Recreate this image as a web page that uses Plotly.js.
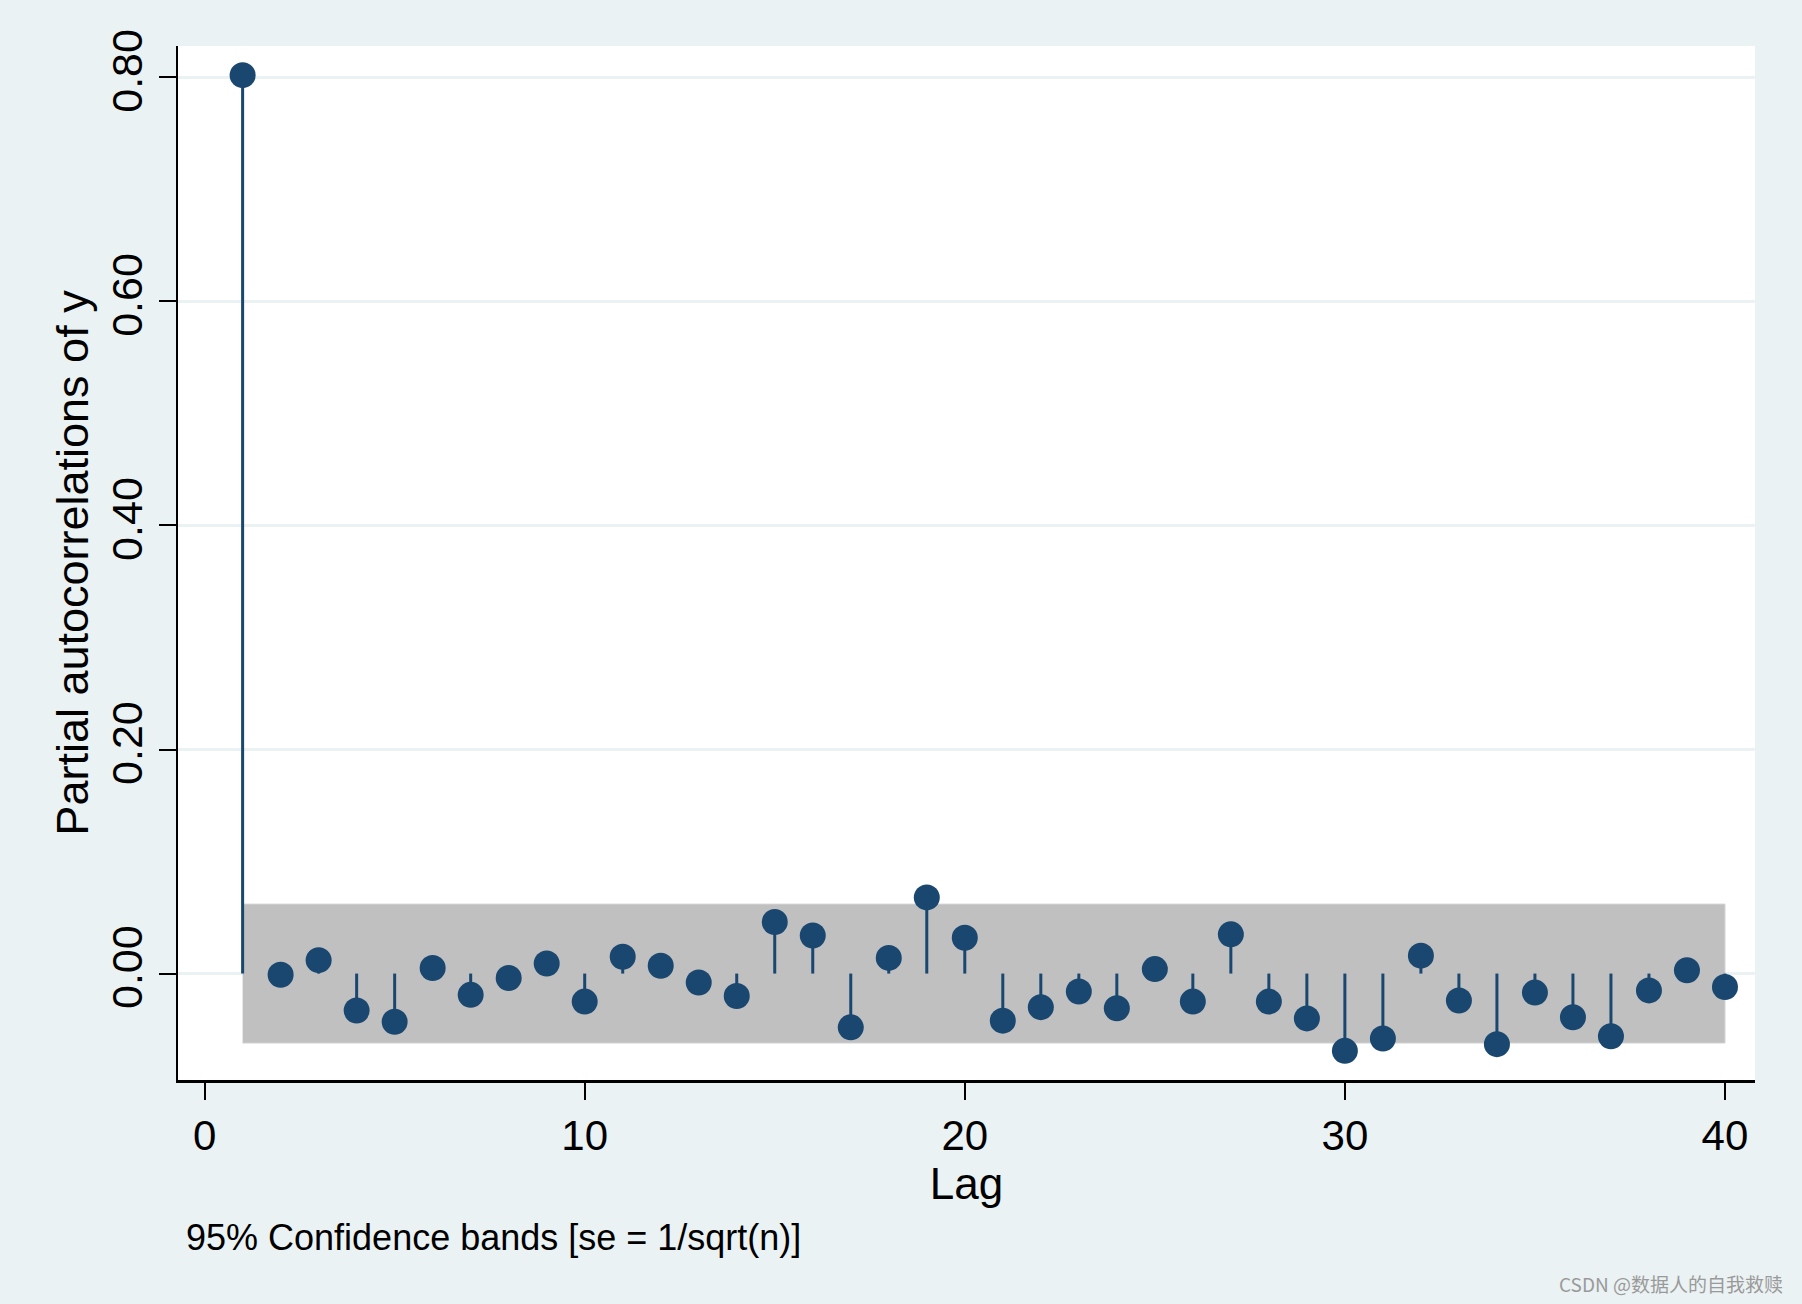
<!DOCTYPE html>
<html>
<head>
<meta charset="utf-8">
<script src="https://cdn.plot.ly/plotly-3.0.1.min.js"></script>
<style>html,body{margin:0;padding:0;background:#EAF2F3;}#chart{width:1802px;height:1304px;}</style>
</head>
<body>
<div id="chart"></div>
<script>
// Data
const lags = [1,2,3,4,5,6,7,8,9,10,11,12,13,14,15,16,17,18,19,20,21,22,23,24,25,26,27,28,29,30,31,32,33,34,35,36,37,38,39,40];
const pac = [0.802,-0.001,0.012,-0.033,-0.043,0.005,-0.019,-0.004,0.009,-0.025,
             0.015,0.007,-0.008,-0.020,0.046,0.034,-0.048,0.014,0.068,0.032,
             -0.042,-0.030,-0.016,-0.031,0.004,-0.025,0.035,-0.025,-0.040,-0.069,
             -0.058,0.016,-0.024,-0.063,-0.017,-0.039,-0.056,-0.015,0.003,-0.012];
const bandHalf = 0.062;   // 1.96 * se, se = 1/sqrt(n)
const xTicks = [0,10,20,30,40];
const yTicks = [0,0.2,0.4,0.6,0.8];
const xTitle = "Lag";
const yTitle = "Partial autocorrelations of y";
const noteText = "95% Confidence bands [se = 1/sqrt(n)]";
const watermark = "CSDN @数据人的自我救赎";

const navy = "#1A476F";
const FONT = "Liberation Sans, Arial, sans-serif";

// Confidence band polygon
const bandX = lags.concat(lags.slice().reverse());
const bandY = lags.map(() => bandHalf).concat(lags.map(() => -bandHalf));

// Stems
const stemX = [], stemY = [];
lags.forEach((l, i) => { stemX.push(l, l, null); stemY.push(0, pac[i], null); });

const traces = [
  {x: bandX, y: bandY, type: "scatter", mode: "lines", fill: "toself",
   fillcolor: "#C0C0C0", line: {color: "#D2D2D2", width: 1}, hoverinfo: "skip", showlegend: false},
  {x: stemX, y: stemY, type: "scatter", mode: "lines",
   line: {color: navy, width: 3}, hoverinfo: "skip", showlegend: false},
  {x: lags, y: pac, type: "scatter", mode: "markers",
   marker: {color: navy, size: 26}, showlegend: false}
];

const layout = {
  width: 1802, height: 1304,
  paper_bgcolor: "#EAF2F3", plot_bgcolor: "#FFFFFF",
  margin: {l: 178, r: 47, t: 46, b: 224},
  font: {family: FONT, color: "#000"},
  showlegend: false,
  xaxis: {
    range: [-0.70, 40.79], tickvals: xTicks, ticktext: xTicks.map(String),
    showgrid: false, zeroline: false,
    showline: true, linecolor: "#000", linewidth: 2.5,
    ticks: "outside", ticklen: 17, tickwidth: 2, tickcolor: "#000",
    tickfont: {size: 42, family: FONT},
    title: {text: xTitle, font: {size: 44, family: FONT}, standoff: 0}
  },
  yaxis: {
    range: [-0.095, 0.828], tickvals: yTicks, ticktext: yTicks.map(v => v.toFixed(2)),
    tickangle: -90,
    showgrid: true, gridcolor: "#EAF2F3", gridwidth: 3, zeroline: false,
    showline: true, linecolor: "#000", linewidth: 2, mirror: false,
    ticks: "outside", ticklen: 17, tickwidth: 2, tickcolor: "#000",
    tickfont: {size: 43, family: FONT},
    title: {text: yTitle, font: {size: 45, family: FONT}, standoff: 0}
  },
  annotations: [
    {text: noteText, xref: "paper", yref: "paper", x: 0.004, y: -0.152,
     xanchor: "left", yanchor: "middle", showarrow: false,
     font: {size: 36, family: FONT, color: "#000"}},
    {text: watermark, xref: "paper", yref: "paper", x: 1.019, y: -0.197,
     xanchor: "right", yanchor: "middle", showarrow: false,
     font: {size: 19, family: "Noto Sans CJK SC, sans-serif", color: "#9A9A9A"}}
  ]
};

Plotly.newPlot("chart", traces, layout, {displayModeBar: false, staticPlot: true});
</script>
</body>
</html>
